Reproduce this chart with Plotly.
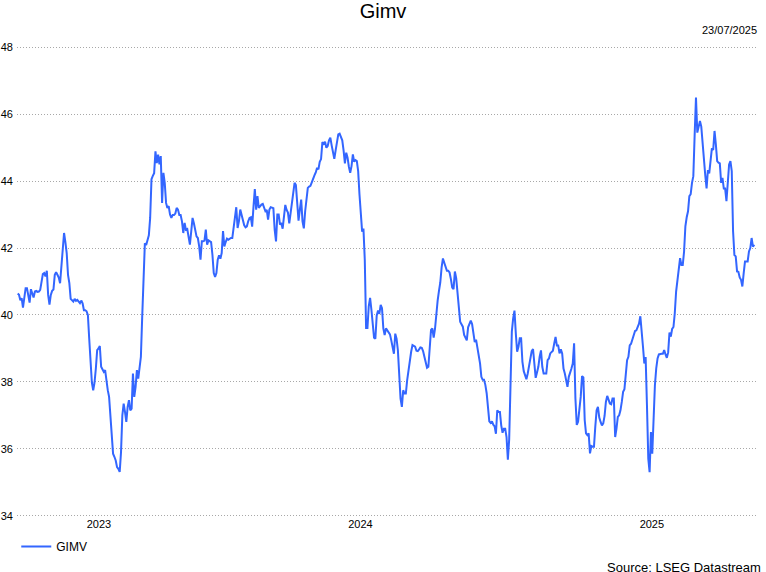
import pandas as pd
import plotly.graph_objects as go

# GIMV share price (EUR), evenly spaced in time
start_date = "2022-08-09"
end_date = "2025-07-23"
price = [
    40.64, 40.60, 40.44, 40.50, 40.22, 40.60, 40.80, 40.80, 40.55, 40.37,
    40.77, 40.60, 40.52, 40.70, 40.72, 40.69, 40.70, 40.75, 41.05, 41.22,
    41.25, 41.15, 41.32, 40.60, 40.31, 40.60, 40.72, 40.76, 41.20, 41.28,
    41.20, 41.12, 40.95, 41.55, 42.15, 42.45, 42.18, 41.85, 41.20, 40.95,
    40.48, 40.44, 40.40, 40.48, 40.42, 40.45, 40.40, 40.35, 40.43, 40.35,
    40.14, 40.14, 40.11, 39.99, 39.29, 38.48, 37.98, 37.75, 37.98, 38.40,
    38.95, 39.00, 39.07, 38.45, 38.35, 38.30,
    38.35, 37.95, 37.75, 37.55, 36.85, 36.55, 35.85, 35.76, 35.65, 35.45,
    35.40, 35.31, 35.90, 37.00, 37.35, 37.10, 36.80, 37.25, 37.45, 37.15,
    37.20, 38.25, 37.55, 37.85, 38.35, 38.10, 38.45, 38.75, 39.95, 41.25,
    42.14, 42.09, 42.22, 42.38, 42.90, 44.06, 44.16, 44.24, 44.89, 44.54,
    44.79, 44.50, 44.75, 43.35, 44.25, 43.95, 43.35, 43.20, 43.25, 43.00,
    42.90, 42.99, 42.99, 43.03, 43.20, 43.15, 42.99, 42.99, 42.80, 42.45,
    42.75, 42.55, 42.57, 42.25, 42.10, 42.50, 42.90, 42.74,
    42.50, 42.35, 42.30, 42.05, 41.65, 42.20, 42.20, 42.22, 42.55, 42.10,
    42.23, 42.20, 42.18, 41.80, 41.25, 41.14, 41.25, 41.65, 41.78, 41.68,
    41.85, 42.51, 42.05, 42.18, 42.28, 42.25, 42.28, 42.30, 42.30, 42.65,
    43.00, 43.22, 42.60, 42.80, 43.15, 43.00, 42.80, 42.68, 42.62, 42.65,
    42.80, 42.90, 42.92, 42.64, 43.24, 43.76, 43.15, 43.55, 43.20, 43.26,
    43.30, 43.32, 43.19, 43.10, 43.14, 42.85, 43.15, 43.22, 43.21, 43.19,
    42.54, 42.20, 43.00, 43.00, 42.70, 42.75, 42.58, 42.90,
    43.29, 43.14, 43.06, 42.74, 43.09, 43.35, 43.62, 43.95, 43.88, 43.20,
    42.82, 43.15, 43.45, 42.80, 42.59, 43.10, 43.40, 43.80, 43.84, 43.86,
    43.96, 44.10, 44.17, 44.26, 44.40, 44.35, 44.58, 44.66, 45.17, 45.12,
    45.18, 45.00, 45.05, 45.22, 45.30, 45.07, 44.82, 44.67, 44.92, 45.22,
    45.40, 45.42, 45.32, 45.22, 44.92, 44.53, 44.85, 44.70, 44.43, 44.25,
    44.45, 44.80, 44.58, 44.63, 44.60, 44.30, 43.60, 42.84, 42.49, 42.58,
    41.65, 39.61, 39.61, 40.26, 40.51, 40.16, 39.76, 39.32,
    39.29, 39.98, 40.13, 40.03, 40.30, 40.20, 39.60, 39.40, 39.60, 39.55,
    39.47, 39.42, 39.24, 39.04, 38.84, 39.44, 39.29, 38.94, 38.25, 37.50,
    37.25, 37.75, 37.65, 37.65, 38.05, 38.40, 38.58, 38.90, 39.10, 39.08,
    39.05, 38.93, 38.92, 38.97, 39.03, 39.02, 38.92, 38.75, 38.57, 38.42,
    38.45, 38.95, 39.55, 39.60, 39.32, 39.58, 40.08, 40.43, 40.72, 40.97,
    41.42, 41.69, 41.56, 41.42, 41.32, 41.32, 41.27, 41.07, 40.82, 40.77,
    41.30, 41.10, 40.65, 40.18, 39.80, 39.72, 39.65, 39.40,
    39.29, 39.24, 39.63, 39.73, 39.83, 39.73, 39.44, 39.19, 39.26, 39.04,
    38.70, 38.55, 38.15, 38.06, 38.06, 37.91, 37.66, 37.27, 36.82, 36.77,
    36.82, 36.72, 36.67, 36.45, 37.15, 37.10, 37.10, 36.70, 36.48, 36.60,
    36.60, 36.35, 35.67, 36.28, 38.10, 39.50, 39.90, 40.13, 39.45, 38.90,
    39.05, 39.30, 39.30, 38.60, 38.32, 38.22, 38.08, 38.25, 38.45, 38.70,
    38.92, 38.98, 38.50, 38.12, 38.28, 38.45, 38.75, 38.94, 38.45, 38.25,
    38.25, 38.25, 38.65, 38.70, 38.85, 38.90, 38.93, 39.15,
    39.34, 39.09, 39.09, 38.85, 38.97, 38.85, 38.40, 38.25, 38.05, 37.85,
    38.15, 38.25, 38.40, 38.55, 39.15, 37.50, 36.71, 36.81, 37.15, 37.55,
    38.17, 38.13, 36.86, 36.46, 36.41, 36.46, 35.86, 36.08, 36.06, 36.06,
    36.66, 37.15, 37.25, 36.93, 36.80, 36.70, 36.76, 36.98, 37.40, 37.58,
    37.47, 37.35, 37.33, 37.50, 37.50, 36.35, 36.60, 36.95, 37.00, 37.15,
    37.40, 37.70, 37.78, 38.15, 38.65, 38.75, 39.09, 39.14, 39.29, 39.44,
    39.52, 39.54, 39.64, 39.74, 39.96, 39.35, 39.05, 38.55,
    38.74, 37.30, 35.70, 35.30, 36.50, 35.85, 37.20, 37.90, 38.40, 38.70,
    38.82, 38.84, 38.84, 38.84, 38.95, 38.82, 38.72, 38.88, 39.47, 39.35,
    39.58, 39.64, 40.05, 40.70, 41.00, 41.30, 41.70, 41.49, 41.49, 41.89,
    42.65, 42.92, 43.10, 43.55, 43.61, 43.95, 44.15, 45.38, 46.50, 45.45,
    45.68, 45.80, 45.63, 45.13, 44.43, 44.18, 43.78, 44.33, 44.23, 44.68,
    44.98, 44.93, 45.50, 45.10, 44.60, 44.55, 44.53, 43.95, 44.10, 43.78,
    43.78, 43.40, 44.15, 44.50, 44.60, 44.30, 42.50, 41.79, 41.75, 41.30,
    41.29, 41.12, 41.05, 40.85, 41.24, 41.60, 41.60, 41.60, 41.90, 42.00,
    42.30, 42.04, 42.10,
]
dates = pd.date_range(start_date, end_date, periods=len(price))

y_ticks = [34, 36, 38, 40, 42, 44, 46, 48]
x_tick_dates = ["2022-12-06", "2023-12-24", "2025-02-23"]
x_tick_labels = ["2023", "2024", "2025"]

FONT = "Liberation Sans, Arial, sans-serif"

fig = go.Figure()
fig.add_trace(go.Scatter(
    x=dates, y=price, mode="lines", name="GIMV",
    line=dict(color="#3366FF", width=2),
))

fig.update_layout(
    width=766, height=572,
    margin=dict(l=17, r=9, t=44, b=53),
    paper_bgcolor="white", plot_bgcolor="white",
    font=dict(family=FONT, color="#000000", size=11),
    title=dict(text="Gimv", x=0.5, xanchor="center", y=0.98, yanchor="middle",
               yref="container", font=dict(size=20, family=FONT, color="#000")),
    showlegend=True,
    legend=dict(orientation="h", x=-0.001, xanchor="left", y=-0.058, yanchor="middle",
                font=dict(size=12, family=FONT), bgcolor="rgba(0,0,0,0)"),
    xaxis=dict(type="date", range=["2022-08-08", "2025-07-27"], automargin=False,
               tickvals=x_tick_dates, ticktext=x_tick_labels,
               showgrid=False, zeroline=False, showline=False, ticks="",
               ticklabelstandoff=-3,
               tickfont=dict(size=11, family=FONT)),
    yaxis=dict(range=[33.9, 48.1], tickvals=y_ticks, ticktext=[str(v) for v in y_ticks],
               automargin=False, ticklabelstandoff=3,
               showgrid=True, gridcolor="#a8a8a8", griddash="1px,2px", gridwidth=1,
               zeroline=False, showline=False, ticks="",
               tickfont=dict(size=11, family=FONT)),
    annotations=[
        dict(text="23/07/2025", xref="paper", yref="paper", x=1.003, y=1.03,
             xanchor="right", yanchor="middle", showarrow=False,
             font=dict(size=11, family=FONT)),
        dict(text="Source: LSEG Datastream", xref="paper", yref="paper",
             x=1.008, y=-0.0815, xanchor="right", yanchor="top", showarrow=False,
             font=dict(size=13, family=FONT)),
    ],
)

fig.write_html("out.html")
